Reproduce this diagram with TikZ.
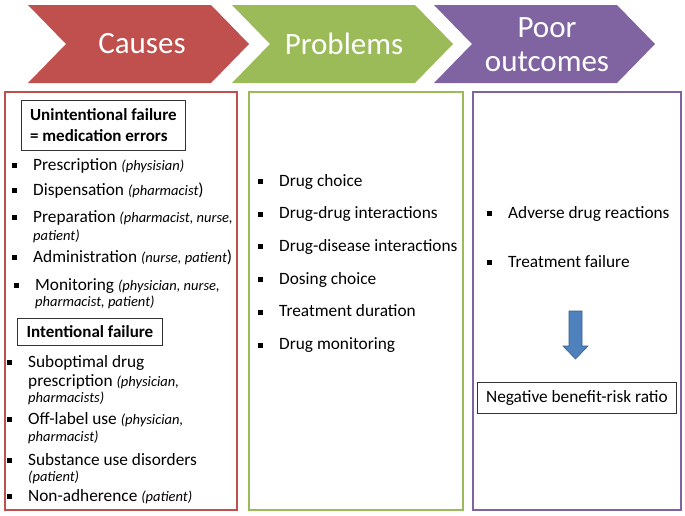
\documentclass[tikz,border=0pt]{standalone}
\usepackage{fontspec}
\setmainfont{Carlito}
\usetikzlibrary{positioning, arrows.meta}

\definecolor{causered}{HTML}{C0504D}
\definecolor{probgreen}{HTML}{9BBB59}
\definecolor{outpurple}{HTML}{8064A2}
\definecolor{arrowblue}{HTML}{4F81BD}
\definecolor{arrowedge}{HTML}{385D8A}

\newcommand{\who}[1]{{\fontsize{14.5}{16}\selectfont\itshape #1}}

\begin{document}
\begin{tikzpicture}[x=1pt, y=-1pt,
        hdr/.style={text=white, align=center, font=\fontsize{31}{34}\selectfont},
        panel/.style={line width=2.5pt},
        item/.style={anchor=base west, inner sep=0pt, font=\fontsize{17.3}{19}\selectfont},
        bul/.style={fill=black, inner sep=0pt, minimum size=5pt},
        tag/.style={draw=black!80, line width=0.8pt, inner sep=0pt, align=center}]
    \useasboundingbox (0,0) rectangle (685,515);

    % chevrons
    \fill[causered] (28,5) -- ++(183,0) -- ++(38,39) -- ++(-38,39) -- ++(-183,0) -- ++(38,-39) -- cycle;
    \fill[probgreen] (232,5) -- ++(183,0) -- ++(38,39) -- ++(-38,39) -- ++(-183,0) -- ++(38,-39) -- cycle;
    \fill[outpurple] (434,5) -- ++(183,0) -- ++(38,39) -- ++(-38,39) -- ++(-183,0) -- ++(38,-39) -- cycle;
    \node[hdr] (causes) at (142,44) {Causes};
    \node[hdr] (problems) at (344,44) {Problems};
    \node[hdr] (outcomes) at (547,45) {Poor\\outcomes};

    % panels
    \draw[panel, causered] (5,92) rectangle (237,510);
    \draw[panel, probgreen] (249,92) rectangle (463,510);
    \draw[panel, outpurple] (473,92) rectangle (681,510);

    % causes
    \node[tag, align=left, anchor=north west, minimum width=164pt, minimum height=50pt,
          font=\fontsize{17}{21}\selectfont\bfseries] (unint) at (21,100)
          {Unintentional failure\\= medication errors};
    \node[item] (presc) at (33,170) {Prescription \who{(physisian)}};
    \node[item] (disp) at (33,195) {Dispensation \who{(pharmacist})};
    \node[item] (prep) at (33,222) {Preparation \who{(pharmacist, nurse,}};
    \node[item] (prep2) at (33,240) {\who{patient)}};
    \node[item] (admin) at (33,262) {Administration \who{(nurse, patient})};
    \node[item] (monit) at (35,290) {Monitoring \who{(physician, nurse,}};
    \node[item] (monit2) at (35,306) {\who{pharmacist, patient)}};
    \foreach \n in {presc, disp, prep, admin, monit}
        \node[bul, left=16pt of \n.base west, yshift=4.5pt] {};

    \node[tag, anchor=north west, minimum width=145pt, minimum height=27pt,
          font=\fontsize{17}{21}\selectfont\bfseries] (inten) at (17,318) {Intentional failure};
    \node[item] (subopt) at (28,367) {Suboptimal drug};
    \node[item] (subopt2) at (28,386) {prescription \who{(physician,}};
    \node[item] (subopt3) at (28,402) {\who{pharmacists)}};
    \node[item] (offl) at (28,424) {Off-label use \who{(physician,}};
    \node[item] (offl2) at (28,441) {\who{pharmacist)}};
    \node[item] (subst) at (28,465) {Substance use disorders};
    \node[item] (subst2) at (28,481) {\who{(patient)}};
    \node[item] (nonadh) at (28,501) {Non-adherence \who{(patient)}};
    \foreach \n in {subopt, offl, subst, nonadh}
        \node[bul, left=16pt of \n.base west, yshift=4.5pt] {};

    % problems
    \foreach \t [count=\i] in {Drug choice, Drug-drug interactions, Drug-disease interactions,
                               Dosing choice, Treatment duration, Drug monitoring} {
        \node[item] (prob\i) at (279,{153.3+32.7*\i}) {\t};
        \node[bul, left=16pt of prob\i.base west, yshift=4.5pt] {};
    }

    % outcomes
    \node[item] (adr) at (508,218) {Adverse drug reactions};
    \node[item] (fail) at (508,267) {Treatment failure};
    \foreach \n in {adr, fail}
        \node[bul, left=16pt of \n.base west, yshift=4.5pt] {};

    \node[tag, anchor=north west, minimum width=199pt, minimum height=31pt,
          font=\fontsize{17.3}{19}\selectfont] (ratio) at (477,382) {Negative benefit-risk ratio};

    \filldraw[fill=arrowblue, draw=arrowedge, line width=0.6pt]
        (569,311) -- (582,311) -- (582,346) -- (588,346) -- (575.5,359)
        -- (563,346) -- (569,346) -- cycle;
\end{tikzpicture}
\end{document}
